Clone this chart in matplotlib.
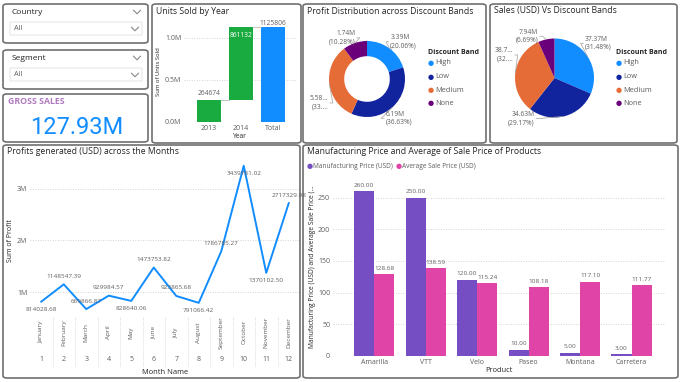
import matplotlib.pyplot as plt
import numpy as np
from matplotlib.patches import FancyBboxPatch
from matplotlib.lines import Line2D

# ---- data ----
years = ["2013", "2014", "Total"]
units_by_year = [264674, 861132]

bands = ["High", "Low", "Medium", "None"]
profit_by_band = [3.39, 6.19, 5.582, 1.737]     # millions USD
sales_by_band = [37.37, 34.63, 38.77, 7.94]     # millions USD

months = ["January", "February", "March", "April", "May", "June", "July",
          "August", "September", "October", "November", "December"]
month_profit = [814028.68, 1148547.39, 669866.87, 929984.57, 828640.06, 1473753.82,
                923865.68, 791066.42, 1786785.27, 3439781.02, 1370102.50, 2717329.98]

products = ["Amarilla", "VTT", "Velo", "Paseo", "Montana", "Carretera"]
manuf_price = [260.00, 250.00, 120.00, 10.00, 5.00, 3.00]
avg_sale_price = [128.68, 138.59, 115.24, 108.18, 117.10, 111.77]

gross_sales = 127.93

# ---- style ----
W, H = 680, 382
BLUE = "#118DFF"
NAVY = "#12239E"
ORANGE = "#E66C37"
PLUM = "#6B007B"
GREEN = "#1AAB40"
PURPLE = "#744EC2"
PINK = "#E044A7"
DARK = "#252423"
GREY = "#605E5C"
band_colors = [BLUE, NAVY, ORANGE, PLUM]
TITLE = 6.2
# where Power BI put the outside labels (degrees, counter-clockwise from 3 o'clock)
profit_label_ang = [63, -70, -145, 100]
sales_label_ang = [53, -111, 148, 106]

plt.rcParams["font.family"] = ["Open Sans", "DejaVu Sans"]


def rect(x0, y0, x1, y1):
    return [x0 / W, 1 - y1 / H, (x1 - x0) / W, (y1 - y0) / H]


def ftext(x, y, s, **kw):
    fig.text(x / W, 1 - y / H, s, **kw)


def panel(x0, y0, x1, y1, ec="#707070", lw=1.2, r=0.006, z=-5):
    p = FancyBboxPatch((x0 / W, 1 - y1 / H), (x1 - x0) / W, (y1 - y0) / H,
                       boxstyle=f"round,pad=0,rounding_size={r}",
                       transform=fig.transFigure, fc="white", ec=ec, lw=lw, zorder=z)
    fig.patches.append(p)


def chevron(x, y, size=3.5, color="#8a8886"):
    xs = [(x - size) / W, x / W, (x + size) / W]
    ys = [1 - (y - size / 2) / H, 1 - (y + size / 2) / H, 1 - (y - size / 2) / H]
    fig.lines.append(Line2D(xs, ys, transform=fig.transFigure, color=color, lw=0.8))


def grid_dots(ax):
    ax.patch.set_alpha(0)
    ax.grid(axis="y", color="#c8c6c4", ls=(0, (1, 2)), lw=0.6)
    ax.set_axisbelow(True)
    for s in ax.spines.values():
        s.set_visible(False)
    ax.tick_params(length=0, labelsize=5, labelcolor=GREY, pad=2)


fig = plt.figure(figsize=(6.8, 3.82), dpi=100)
fig.patch.set_facecolor("white")

# ---- panels ----
panel(3, 4, 148, 43)
panel(3, 50, 148, 89)
panel(3, 94, 148, 142)
panel(152, 4, 301, 143)
panel(303, 4, 486, 143)
panel(490, 4, 677, 143)
panel(3, 145, 300, 378)
panel(303, 145, 678, 378)

# ---- slicers ----
for label, y0 in [("Country", 4), ("Segment", 50)]:
    ftext(12, y0 + 9, label, fontsize=6.0, color=DARK, va="center")
    chevron(137, y0 + 8)
    panel(10, y0 + 18, 142, y0 + 31, ec="#e1dfdd", lw=0.6, r=0.002, z=-4)
    ftext(14, y0 + 25, "All", fontsize=5.3, color=GREY, va="center")
    chevron(135, y0 + 25)

# ---- card ----
ftext(8, 101, "GROSS SALES", fontsize=6.3, color="#B07AC0", fontweight="bold", va="center")
ftext(77, 127, f"{gross_sales:.2f}M", fontsize=17, color=BLUE, ha="center", va="center",
      family=["Roboto", "DejaVu Sans"])

# ---- Units Sold by Year (waterfall) ----
ftext(156, 11, "Units Sold by Year", fontsize=TITLE, color=DARK, va="center")
ax = fig.add_axes(rect(184, 21, 296, 122))
total = sum(units_by_year)
bottoms = [0, units_by_year[0], 0]
heights = [units_by_year[0], units_by_year[1], total]
xs = np.arange(len(years))
ax.bar(xs, heights, bottom=bottoms, width=0.75, color=[GREEN, GREEN, BLUE])
tops = [b + h for b, h in zip(bottoms, heights)]
for i in range(len(years) - 1):
    ax.plot([i + 0.375, i + 0.625], [tops[i], tops[i]], color="#b3b0ad", lw=0.5)
ax.annotate(f"{heights[0]}", (0, tops[0]), xytext=(0, 6), textcoords="offset pixels",
            ha="center", va="center", fontsize=4.8, color=GREY)
ax.annotate(f"{heights[1]}", (1, tops[1]), xytext=(0, -8), textcoords="offset pixels",
            ha="center", va="center", fontsize=4.8, color="white")
ax.annotate(f"{heights[2]}", (2, tops[2]), xytext=(0, 4), textcoords="offset pixels",
            ha="center", va="center", fontsize=4.8, color=GREY)
ax.set_xlim(-0.78, 2.72)
ax.set_ylim(0, 1.2e6)
ax.set_yticks([0, 0.5e6, 1.0e6])
ax.set_yticklabels(["0.0M", "0.5M", "1.0M"])
ax.set_xticks(xs)
ax.set_xticklabels(years)
grid_dots(ax)
ax.set_xlabel("Year", fontsize=4.8, color=DARK, labelpad=1)
ax.set_ylabel("Sum of Units Sold", fontsize=4.2, color=DARK, labelpad=3)


# ---- pies ----
def pie_chart(cx, cy, r, values, hole, title, tx, label_ang):
    ftext(tx, 11, title, fontsize=TITLE, color=DARK, va="center")
    half = 62
    ax = fig.add_axes(rect(cx - half, cy - half, cx + half, cy + half))
    k = half / r
    wedges, _ = ax.pie(values, colors=band_colors, startangle=90, counterclock=False,
                       radius=1, wedgeprops=dict(width=hole if hole else 1, lw=0))
    ax.set_xlim(-k, k)
    ax.set_ylim(-k, k)
    ax.set_aspect("equal")
    ax.axis("off")
    tot = sum(values)
    for w, v, name, la in zip(wedges, values, bands, label_ang):
        mid = np.deg2rad((w.theta1 + w.theta2) / 2)
        a = np.deg2rad(la)
        p1 = (np.cos(mid), np.sin(mid))
        p2 = (1.1 * np.cos(a), 1.1 * np.sin(a))
        side = 1 if np.cos(a) >= 0 else -1
        p3 = (p2[0] + side * 0.07, p2[1])
        ax.plot([p1[0], p2[0], p3[0]], [p1[1], p2[1], p3[1]], color="#a19f9d", lw=0.5,
                clip_on=False)
        l1 = f"{v:.2f}M"
        l2 = f"({v / tot * 100:.2f}%)"
        if name == "Medium":
            l1, l2 = l1[:4] + "...", l2[:4] + "..."
        ax.text(p3[0] + side * 0.04, p3[1], l1 + "\n" + l2, fontsize=4.8, color=GREY,
                ha="left" if side > 0 else "right", va="center", linespacing=1.2,
                clip_on=False)


def band_legend(x, y):
    ftext(x, y, "Discount Band", fontsize=5.0, color=DARK, fontweight="bold", va="center")
    for i, (name, col) in enumerate(zip(bands, band_colors)):
        yy = y + 11 + i * 13.5
        ftext(x + 3, yy, "\u25cf", fontsize=5, color=col, va="center", ha="center",
              family="DejaVu Sans")
        ftext(x + 7, yy, name, fontsize=5.3, color=GREY, va="center")


pie_chart(367, 79, 38, profit_by_band, 0.4, "Profit Distribution across Discount Bands", 307,
          profit_label_ang)
band_legend(428, 52)
pie_chart(554.5, 78, 39.5, sales_by_band, None, "Sales (USD) Vs Discount Bands", 494,
          sales_label_ang)
band_legend(616, 52)

# ---- Profits across months (line) ----
ftext(7, 151, "Profits generated (USD) across the Months", fontsize=TITLE, color=DARK,
      va="center")
ax = fig.add_axes(rect(30, 158, 300, 315))
mx = np.arange(1, 13)
ax.plot(mx, month_profit, color=BLUE, lw=1.4)
label_side = [-1, 1, 1, 1, -1, 1, 1, -1, 1, -1, -1, 1]
for x, v, sd in zip(mx, month_profit, label_side):
    ax.annotate(f"{v:.2f}", (x, v), xytext=(0, 8 * sd), textcoords="offset pixels",
                ha="center", va="center", fontsize=4.6, color=GREY)
ax.set_xlim(0.5, 12.5)
ax.set_ylim(0.556e6, 3.59e6)
ax.set_yticks([1e6, 2e6, 3e6])
ax.set_yticklabels(["1M", "2M", "3M"])
ax.set_xticks([])
grid_dots(ax)
tr = ax.get_xaxis_transform()
for i, (x, m) in enumerate(zip(mx, months)):
    ax.text(x, -0.11, m, rotation=90, transform=tr, ha="center", va="center",
            fontsize=4.6, color=GREY)
    ax.text(x, -0.285, str(x), transform=tr, ha="center", va="center",
            fontsize=5, color=GREY)
for x in np.arange(1.5, 12, 1):
    ax.plot([x, x], [-0.01, -0.33], transform=tr, color="#c8c6c4", lw=0.5,
            ls=(0, (1, 1.5)), clip_on=False)
ftext(165, 372, "Month Name", fontsize=5.4, color=DARK, ha="center", va="center")
ftext(11, 241, "Sum of Profit", fontsize=5.0, color=DARK, ha="center", va="center",
      rotation=90)

# ---- Price bars ----
ftext(307, 151, "Manufacturing Price and Average of Sale Price of Products", fontsize=TITLE,
      color=DARK, va="center")
ftext(310, 166, "\u25cf", fontsize=5, color=PURPLE, ha="center", va="center",
      family="DejaVu Sans")
ftext(313, 166, "Manufacturing Price (USD)", fontsize=4.7, color=GREY, va="center")
ftext(399, 166, "\u25cf", fontsize=5, color=PINK, ha="center", va="center",
      family="DejaVu Sans")
ftext(402, 166, "Average Sale Price (USD)", fontsize=4.7, color=GREY, va="center")
ax = fig.add_axes(rect(333, 178, 665, 356))
px = np.arange(len(products))
bw = 0.39
ax.bar(px - bw / 2, manuf_price, width=bw, color=PURPLE)
ax.bar(px + bw / 2, avg_sale_price, width=bw, color=PINK)
for x, a, b in zip(px, manuf_price, avg_sale_price):
    ax.annotate(f"{a:.2f}", (x - bw / 2, a), xytext=(0, 6), textcoords="offset pixels",
                ha="center", va="center", fontsize=4.6, color=GREY)
    ax.annotate(f"{b:.2f}", (x + bw / 2, b), xytext=(0, 6), textcoords="offset pixels",
                ha="center", va="center", fontsize=4.6, color=GREY)
ax.set_xlim(-0.8, 5.65)
ax.set_ylim(0, 281)
ax.set_yticks(range(0, 251, 50))
ax.set_xticks(px)
ax.set_xticklabels(products)
grid_dots(ax)
ax.set_xlabel("Product", fontsize=5.4, color=DARK, labelpad=1)
ftext(313, 267, "Manufacturing Price (USD) and Average Sale Price (...", fontsize=4.8,
      color=DARK, ha="center", va="center", rotation=90)

fig.savefig("out.png", dpi=100)
